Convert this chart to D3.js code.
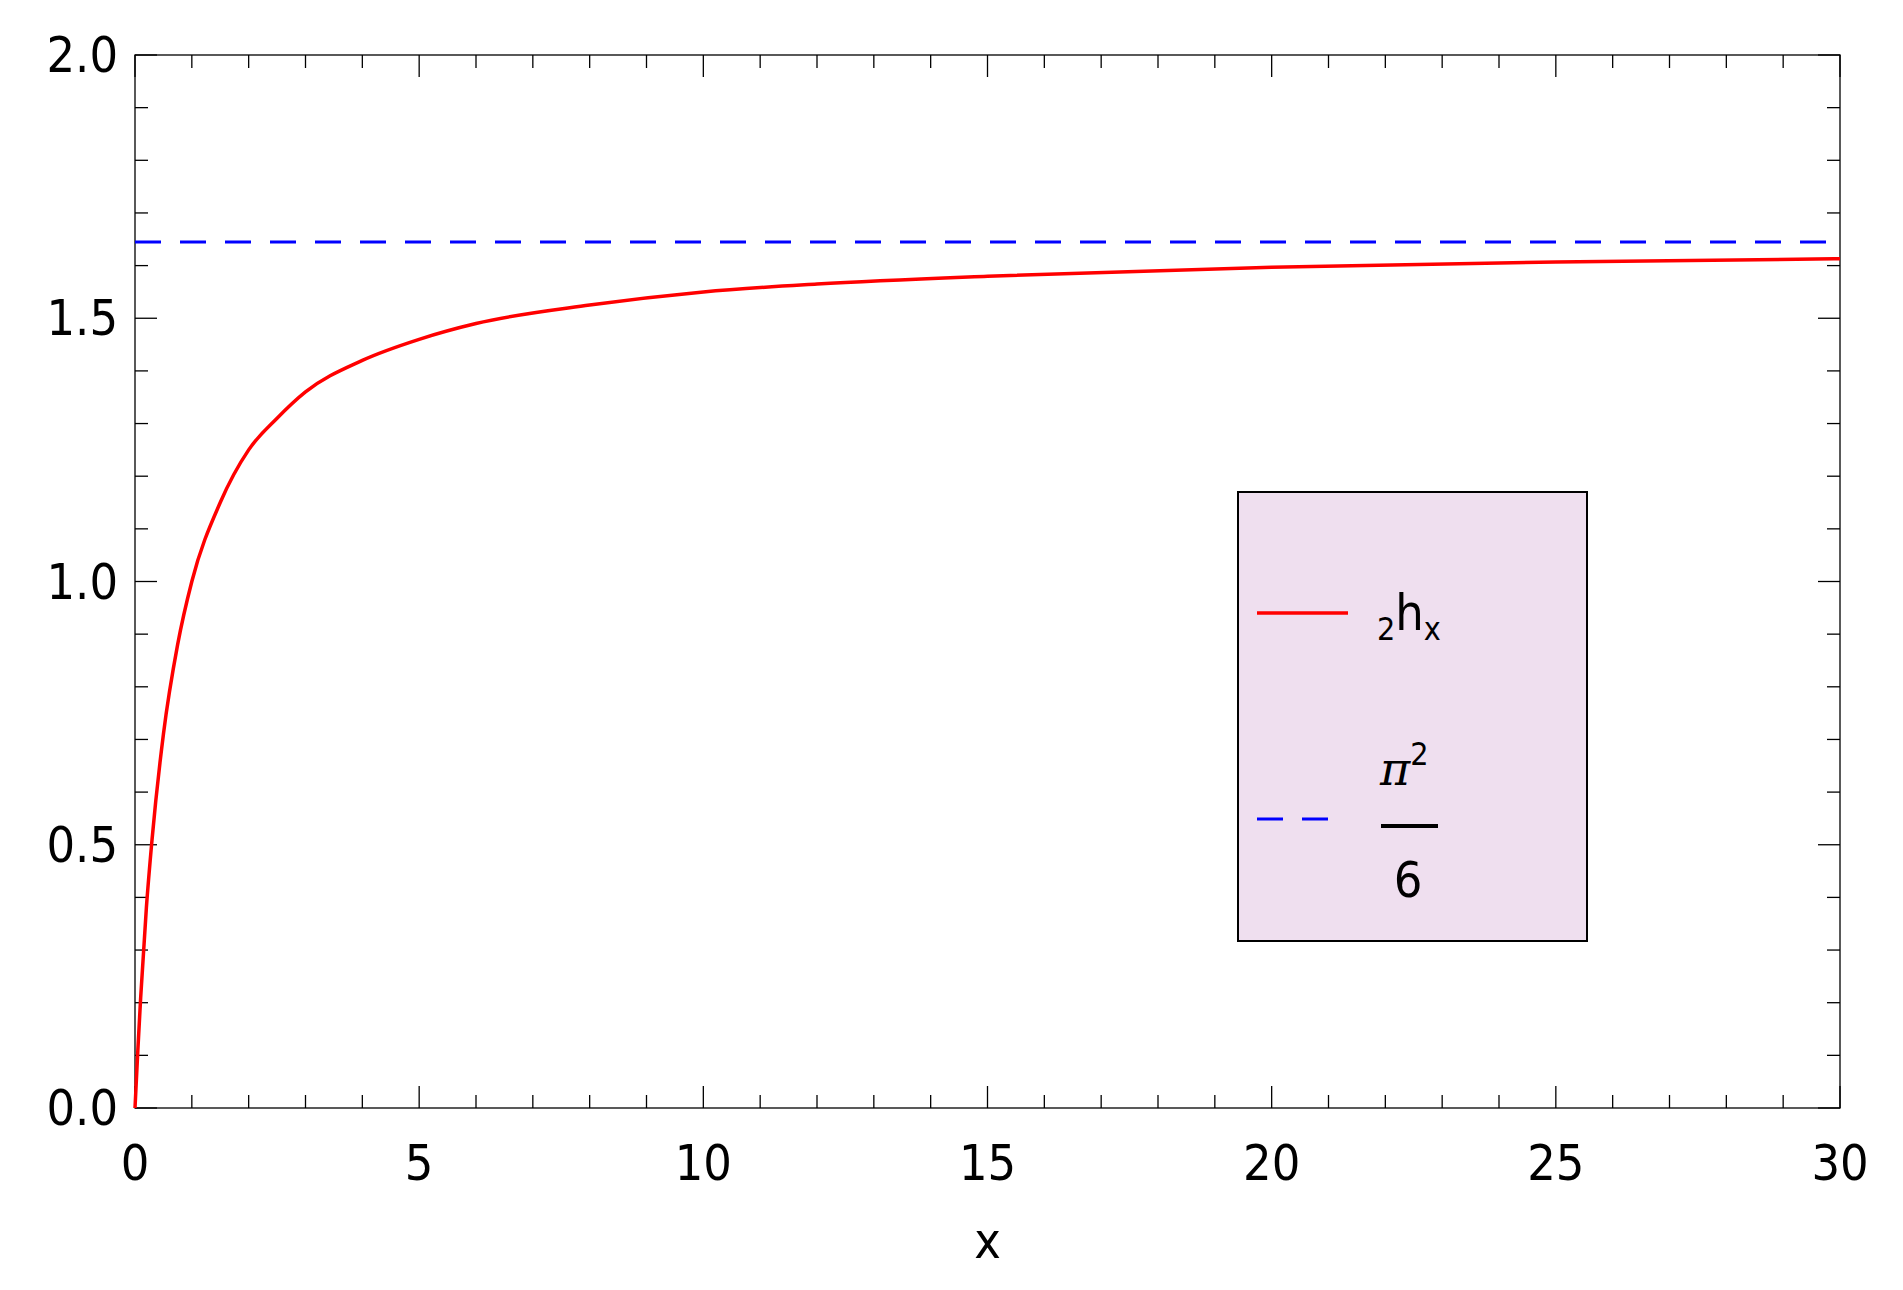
<!DOCTYPE html>
<html><head><meta charset="utf-8">
<script src="https://cdn.jsdelivr.net/npm/d3@7"></script>
<style>body{margin:0;background:#fff}text{font-family:"Liberation Sans Narrow","DejaVu Sans Condensed","Liberation Sans",sans-serif;font-weight:300}</style>
</head><body><div id="chart"></div>
<script>
// values
const xs = [0, 0.05, 0.1, 0.2, 0.3, 0.5, 0.75, 1, 1.5, 2, 2.5, 3, 4, 5, 6, 8, 10, 12, 15, 20, 25, 30];
const hx = [0, 0.11, 0.21, 0.38, 0.51, 0.71, 0.88, 1.0, 1.15, 1.25, 1.31, 1.36, 1.42, 1.46, 1.49, 1.525, 1.55, 1.565, 1.58, 1.597, 1.607, 1.613];
const limitValue = 1.645;
const xTicks = [0, 5, 10, 15, 20, 25, 30];
const yTicks = [0.0, 0.5, 1.0, 1.5, 2.0];

const W = 1903, H = 1290;
const m = {left: 135, right: 1848 - 8, top: 55, bottom: 1108};
const svg = d3.select("#chart").append("svg").attr("width", W).attr("height", H);
const x = d3.scaleLinear().domain([0, 30]).range([m.left, m.right]);
const y = d3.scaleLinear().domain([0, 2]).range([m.bottom, m.top]);

const g = svg.append("g").attr("stroke", "#000").attr("stroke-width", 1.3);
g.append("rect").attr("x", m.left).attr("y", m.top).attr("width", m.right - m.left)
  .attr("height", m.bottom - m.top).attr("fill", "none");

// minor + major ticks on all four sides
d3.range(0, 31, 1).forEach(v => {
  const len = v % 5 === 0 ? 22 : 13;
  g.append("line").attr("x1", x(v)).attr("x2", x(v)).attr("y1", m.bottom).attr("y2", m.bottom - len);
  g.append("line").attr("x1", x(v)).attr("x2", x(v)).attr("y1", m.top).attr("y2", m.top + len);
});
d3.range(0, 21, 1).forEach(i => {
  const v = i / 10, len = i % 5 === 0 ? 22 : 13;
  g.append("line").attr("y1", y(v)).attr("y2", y(v)).attr("x1", m.left).attr("x2", m.left + len);
  g.append("line").attr("y1", y(v)).attr("y2", y(v)).attr("x1", m.right).attr("x2", m.right - len);
});

const lab = svg.append("g").attr("font-size", 50).attr("fill", "#000");
lab.selectAll(".xl").data(xTicks).join("text").attr("x", d => x(d)).attr("y", 1180)
  .attr("text-anchor", "middle").text(d => d);
lab.selectAll(".yl").data(yTicks).join("text").attr("x", 118).attr("y", d => y(d) + 17)
  .attr("text-anchor", "end").text(d => d.toFixed(1));
lab.append("text").attr("x", (m.left + m.right) / 2).attr("y", 1258).attr("text-anchor", "middle").text("x");

// curves
svg.append("line").attr("x1", x(0)).attr("x2", x(30)).attr("y1", y(limitValue)).attr("y2", y(limitValue))
  .attr("stroke", "#0000ff").attr("stroke-width", 3).attr("stroke-dasharray", "26,19");
svg.append("path").datum(xs.map((d, i) => [d, hx[i]]))
  .attr("d", d3.line().x(d => x(d[0])).y(d => y(d[1])).curve(d3.curveMonotoneX))
  .attr("fill", "none").attr("stroke", "#ff0000").attr("stroke-width", 3.5);

// legend
const lg = svg.append("g");
lg.append("rect").attr("x", 1238).attr("y", 492).attr("width", 349).attr("height", 449)
  .attr("fill", "#efdfef").attr("stroke", "#000").attr("stroke-width", 2);
lg.append("line").attr("x1", 1257).attr("x2", 1348).attr("y1", 613).attr("y2", 613)
  .attr("stroke", "#ff0000").attr("stroke-width", 3.5);
const t1 = lg.append("text").attr("x", 1377).attr("y", 630).attr("font-size", 50);
t1.append("tspan").attr("font-size", 32).attr("dy", 10).text("2");
t1.append("tspan").attr("dy", -10).text("h");
t1.append("tspan").attr("font-size", 32).attr("dy", 10).text("x");
lg.append("line").attr("x1", 1257).attr("x2", 1330).attr("y1", 819).attr("y2", 819)
  .attr("stroke", "#0000ff").attr("stroke-width", 3).attr("stroke-dasharray", "26,19");
const t2 = lg.append("text").attr("x", 1380).attr("y", 785).attr("font-size", 46);
t2.append("tspan").attr("font-style", "italic").attr("font-weight", 400).attr("font-family", "DejaVu Serif").text("π");
t2.append("tspan").attr("font-size", 32).attr("dy", -20).text("2");
lg.append("line").attr("x1", 1381).attr("x2", 1438).attr("y1", 826).attr("y2", 826)
  .attr("stroke", "#000").attr("stroke-width", 4);
lg.append("text").attr("x", 1408).attr("y", 897).attr("font-size", 50).attr("text-anchor", "middle").text("6");
</script></body></html>
